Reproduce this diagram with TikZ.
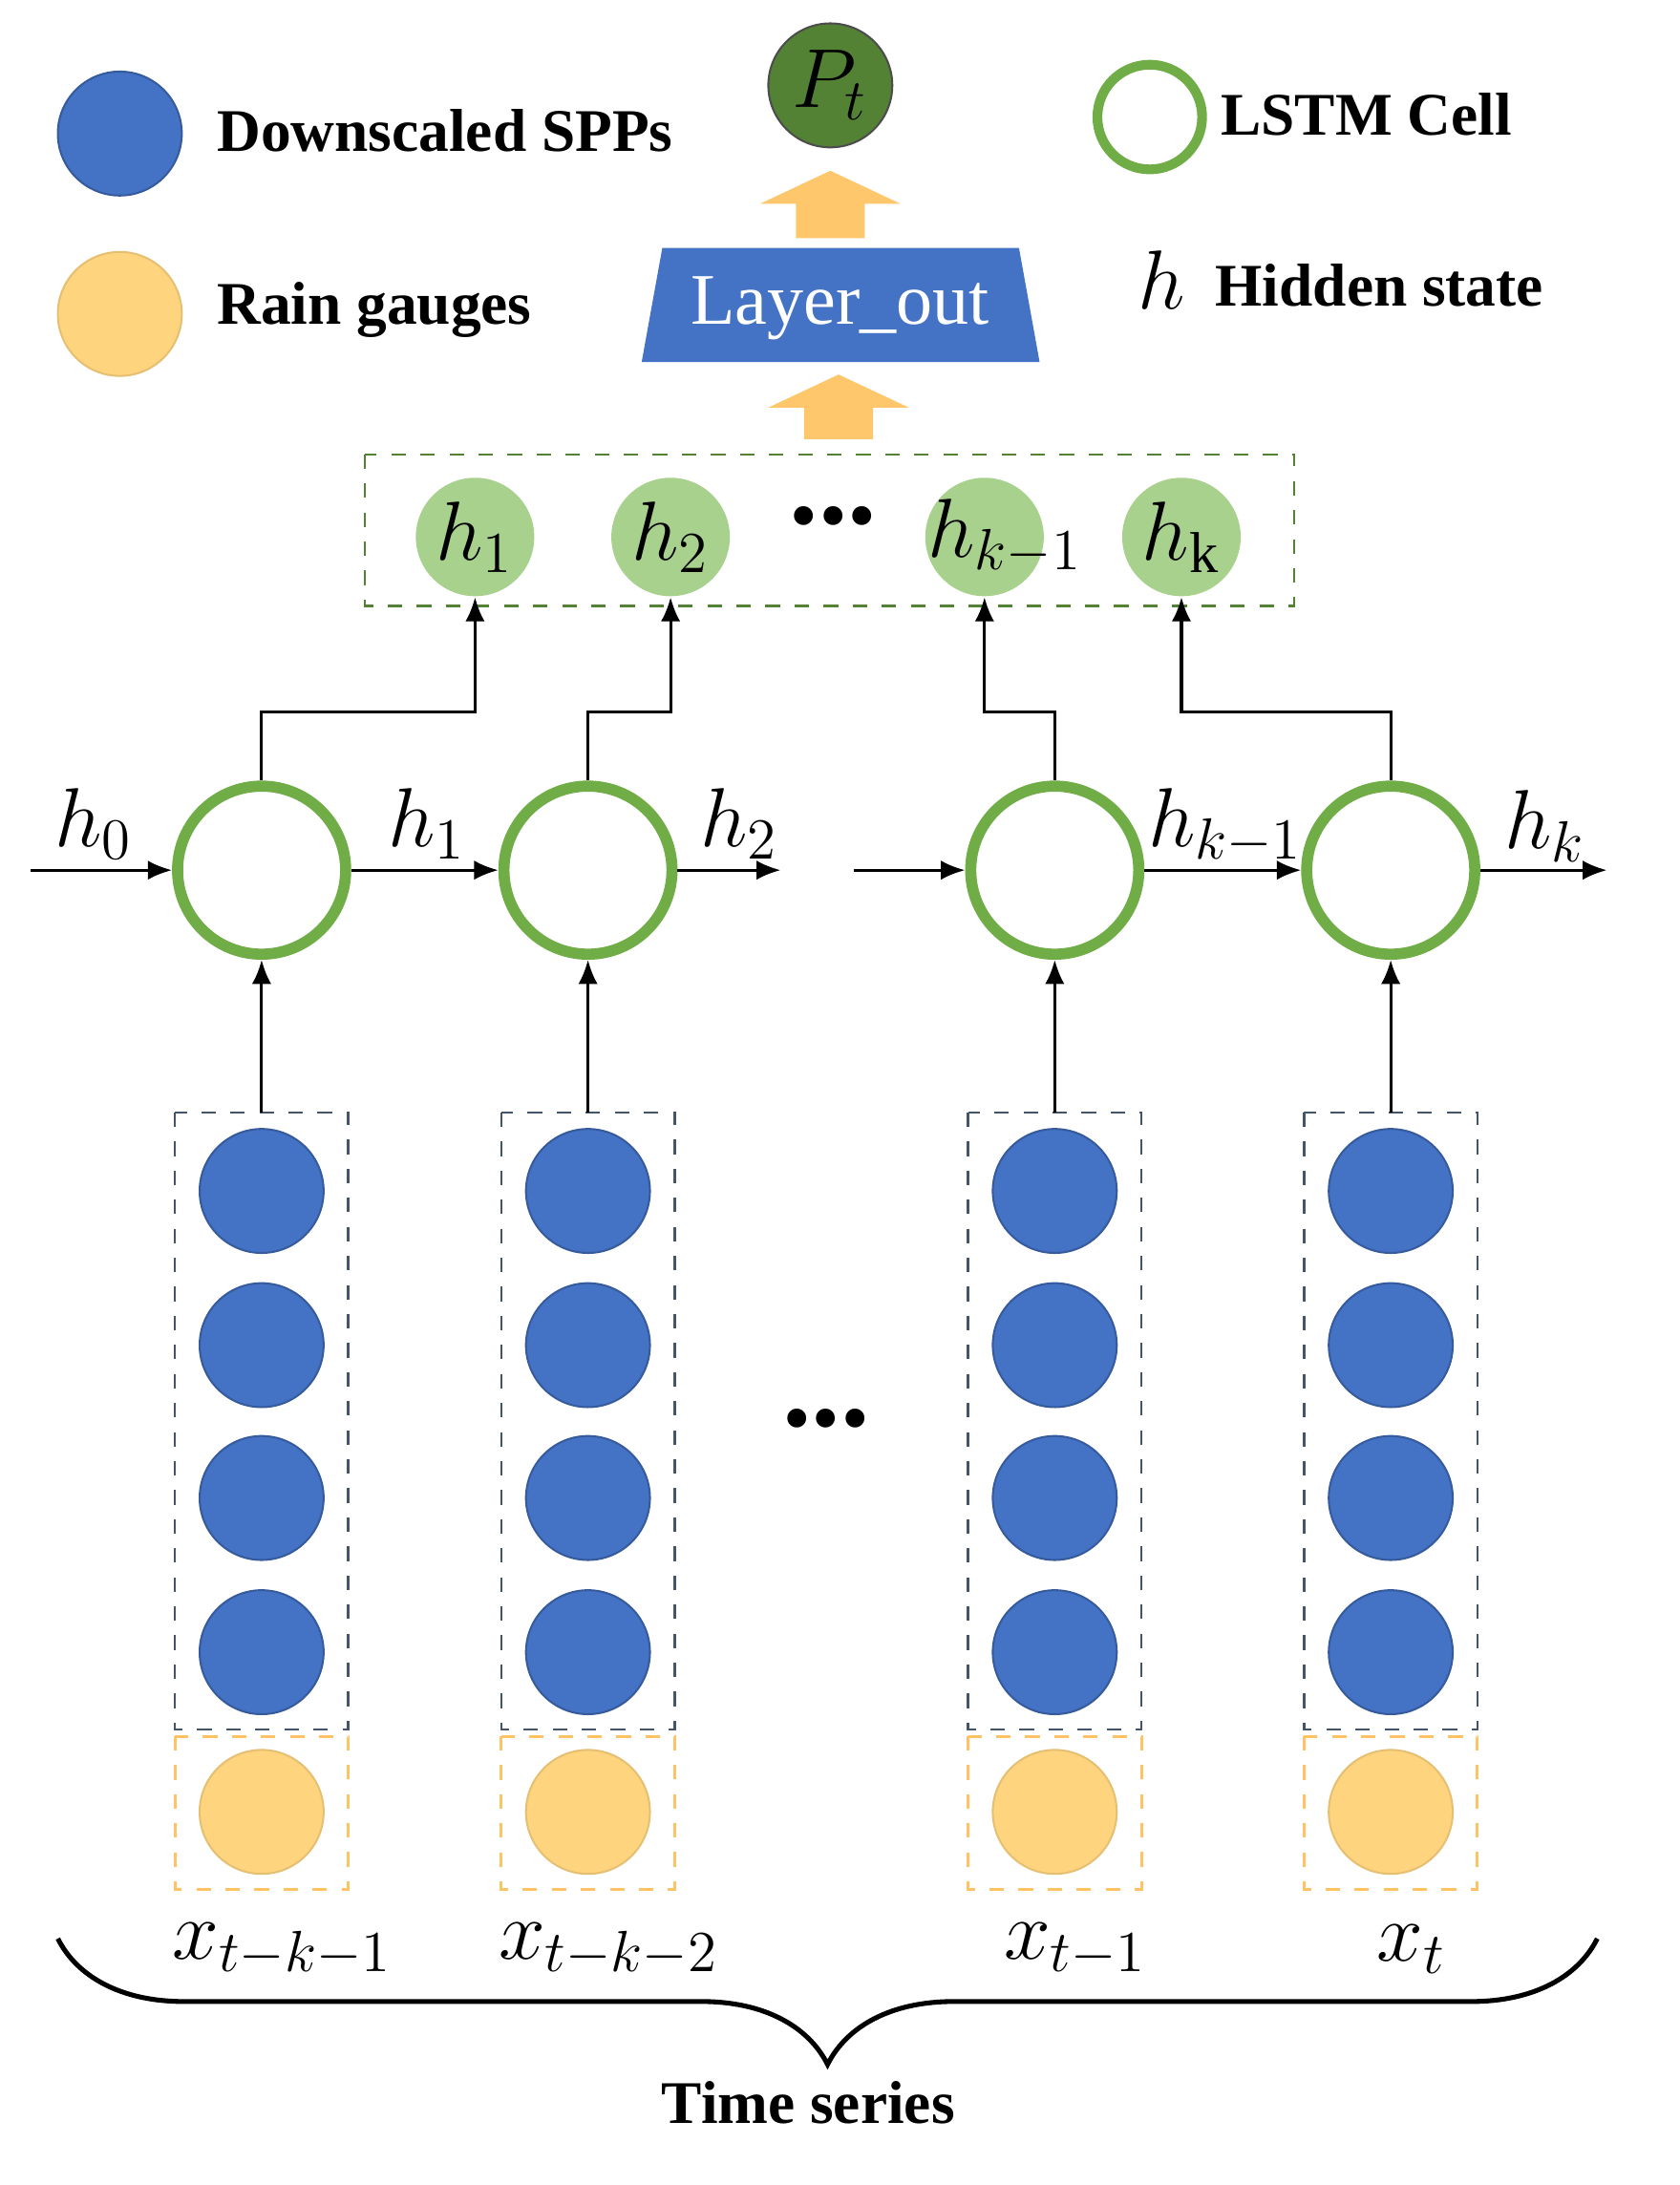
\documentclass[tikz,border=0pt]{standalone}
\usepackage{fontspec}
\setmainfont{Liberation Serif}
\usetikzlibrary{decorations.pathreplacing,arrows.meta}
\definecolor{cblue}{HTML}{4472C4}
\definecolor{corange}{HTML}{FFD47F}
\definecolor{cgreen}{HTML}{70AD47}
\definecolor{clgreen}{HTML}{A9D18E}
\definecolor{cdgreen}{HTML}{548235}
\definecolor{cdash}{HTML}{44546A}
\begin{document}
\begin{tikzpicture}[x=0.01cm,y=-0.01cm,
  blue/.style={circle,fill=cblue,draw=cblue!80!black,line width=0.4pt,minimum size=0.9cm,inner sep=0},
  org/.style={circle,fill=corange,draw=corange!90!black,line width=0.4pt,minimum size=0.9cm,inner sep=0},
  cell/.style={circle,draw=cgreen,line width=2.3pt,fill=white,minimum size=1.22cm,inner sep=0},
  hn/.style={circle,fill=clgreen,minimum size=0.86cm,inner sep=0},
  conn/.style={-{Latex[length=5pt,width=4pt]},line width=0.6pt},
  lbl/.style={font=\fontsize{17}{20}\selectfont,inner sep=0},
  leg/.style={font=\fontsize{12.5}{15}\selectfont\bfseries,anchor=west,inner sep=0},
  bbox/.style={draw=cdash,dashed,line width=0.5pt},
  obox/.style={draw=corange!80!orange,dashed,line width=0.6pt},
  dots/.style={font=\fontsize{24}{24}\selectfont\bfseries},
  barrow/.style={fill=corange!85!orange}]
\useasboundingbox (0,0) rectangle (1220,1587);
% legend
\node[blue] (lb) at (87,97) {};
\node[leg] (lbt) at (157,95) {Downscaled SPPs};
\node[org] (lo) at (87,228) {};
\node[leg] (lot) at (157,225) {Rain gauges};
\node[circle,draw=cgreen,line width=2pt,minimum size=0.76cm] (lc) at (835,85) {};
\node[leg] (lct) at (886,83) {LSTM Cell};
\node[lbl,anchor=west] (lh) at (826,203) {$h$};
\node[leg] (lht) at (882,207) {Hidden state};
% output
\node[circle,fill=cdgreen,draw=black!70,line width=0.4pt,minimum size=0.9cm,inner sep=0,font=\fontsize{17}{20}\selectfont] (pt) at (603,62) {$P_t$};
\fill[barrow] (552,148) -- (603,124) -- (654,148) -- (628,148) -- (628,173) -- (578,173) -- (578,148) -- cycle;
\fill[cblue] (481,180) -- (740,180) -- (755,263) -- (466,263) -- cycle;
\node[text=white,font=\fontsize{15}{18}\selectfont] (lo2) at (610,224) {Layer\_out};
\fill[barrow] (558,296) -- (609,272) -- (660,296) -- (634,296) -- (634,319) -- (584,319) -- (584,296) -- cycle;
% hidden box
\draw[draw=cdgreen,dashed,line width=0.5pt] (265,330) rectangle (940,440);
\node[hn] (h1) at (345,390) {};
\node[hn] (h2) at (487,390) {};
\node[hn] (h3) at (715,390) {};
\node[hn] (h4) at (858,390) {};
\node[lbl] (h1t) at (h1) {$h_1$};
\node[lbl] (h2t) at (h2) {$h_2$};
\node[lbl] (h3t) at (730,390) {$h_{k-1}$};
\node[lbl] (h4t) at (h4) {$h_{\mathrm{k}}$};
\node[dots] (d1) at (605,375) {...};
% cells
\node[cell] (c1) at (190,632) {};
\node[cell] (c2) at (427,632) {};
\node[cell] (c3) at (766,632) {};
\node[cell] (c4) at (1010,632) {};
\coordinate (s0) at (22,632);
\coordinate (e2) at (567,632);
\coordinate (s3) at (620,632);
\coordinate (e4) at (1167,632);
\draw[conn] (s0) -- (c1);
\draw[conn] (c1) -- (c2);
\draw[conn] (c2) -- (e2);
\draw[conn] (s3) -- (c3);
\draw[conn] (c3) -- (c4);
\draw[conn] (c4) -- (e4);
\node[lbl] (l0) at (68,598) {$h_0$};
\node[lbl] (l1) at (310,598) {$h_1$};
\node[lbl] (l2) at (537,598) {$h_2$};
\node[lbl] (l3) at (890,600) {$h_{k-1}$};
\node[lbl] (l4) at (1122,600) {$h_k$};
\draw[conn] (c1.north) -- (190,517) -| (h1.south);
\draw[conn] (c2.north) -- (427,517) -| (h2.south);
\draw[conn] (c3.north) -- (766,517) -| (h3.south);
\draw[conn] (c4.north) -- (1010,517) -| (h4.south);
% input columns
\foreach \i/\x/\lab in {1/190/{x_{t-k-1}},2/427/{x_{t-k-2}},3/766/{x_{t-1}},4/1010/{x_t}}{
  \draw[bbox] (\x-63,808) rectangle (\x+63,1256);
  \node[blue] (b\i a) at (\x,865) {};
  \node[blue] (b\i b) at (\x,977) {};
  \node[blue] (b\i c) at (\x,1088) {};
  \node[blue] (b\i d) at (\x,1200) {};
  \draw[obox] (\x-63,1261) rectangle (\x+63,1372);
  \node[org] (o\i) at (\x,1316) {};
  \coordinate (t\i) at (\x,808);
  \node[lbl] (x\i) at (\x+15,1416) {$\lab$};
}
\draw[conn] (t1) -- (c1);
\draw[conn] (t2) -- (c2);
\draw[conn] (t3) -- (c3);
\draw[conn] (t4) -- (c4);
\node[dots] (d2) at (600,1030) {...};
\draw[line width=1pt,decorate,decoration={brace,mirror,amplitude=26pt}] (42,1408) -- (1160,1408);
\node[font=\fontsize{12.5}{15}\selectfont\bfseries] (ts) at (587,1527) {Time series};
\end{tikzpicture}
\end{document}
